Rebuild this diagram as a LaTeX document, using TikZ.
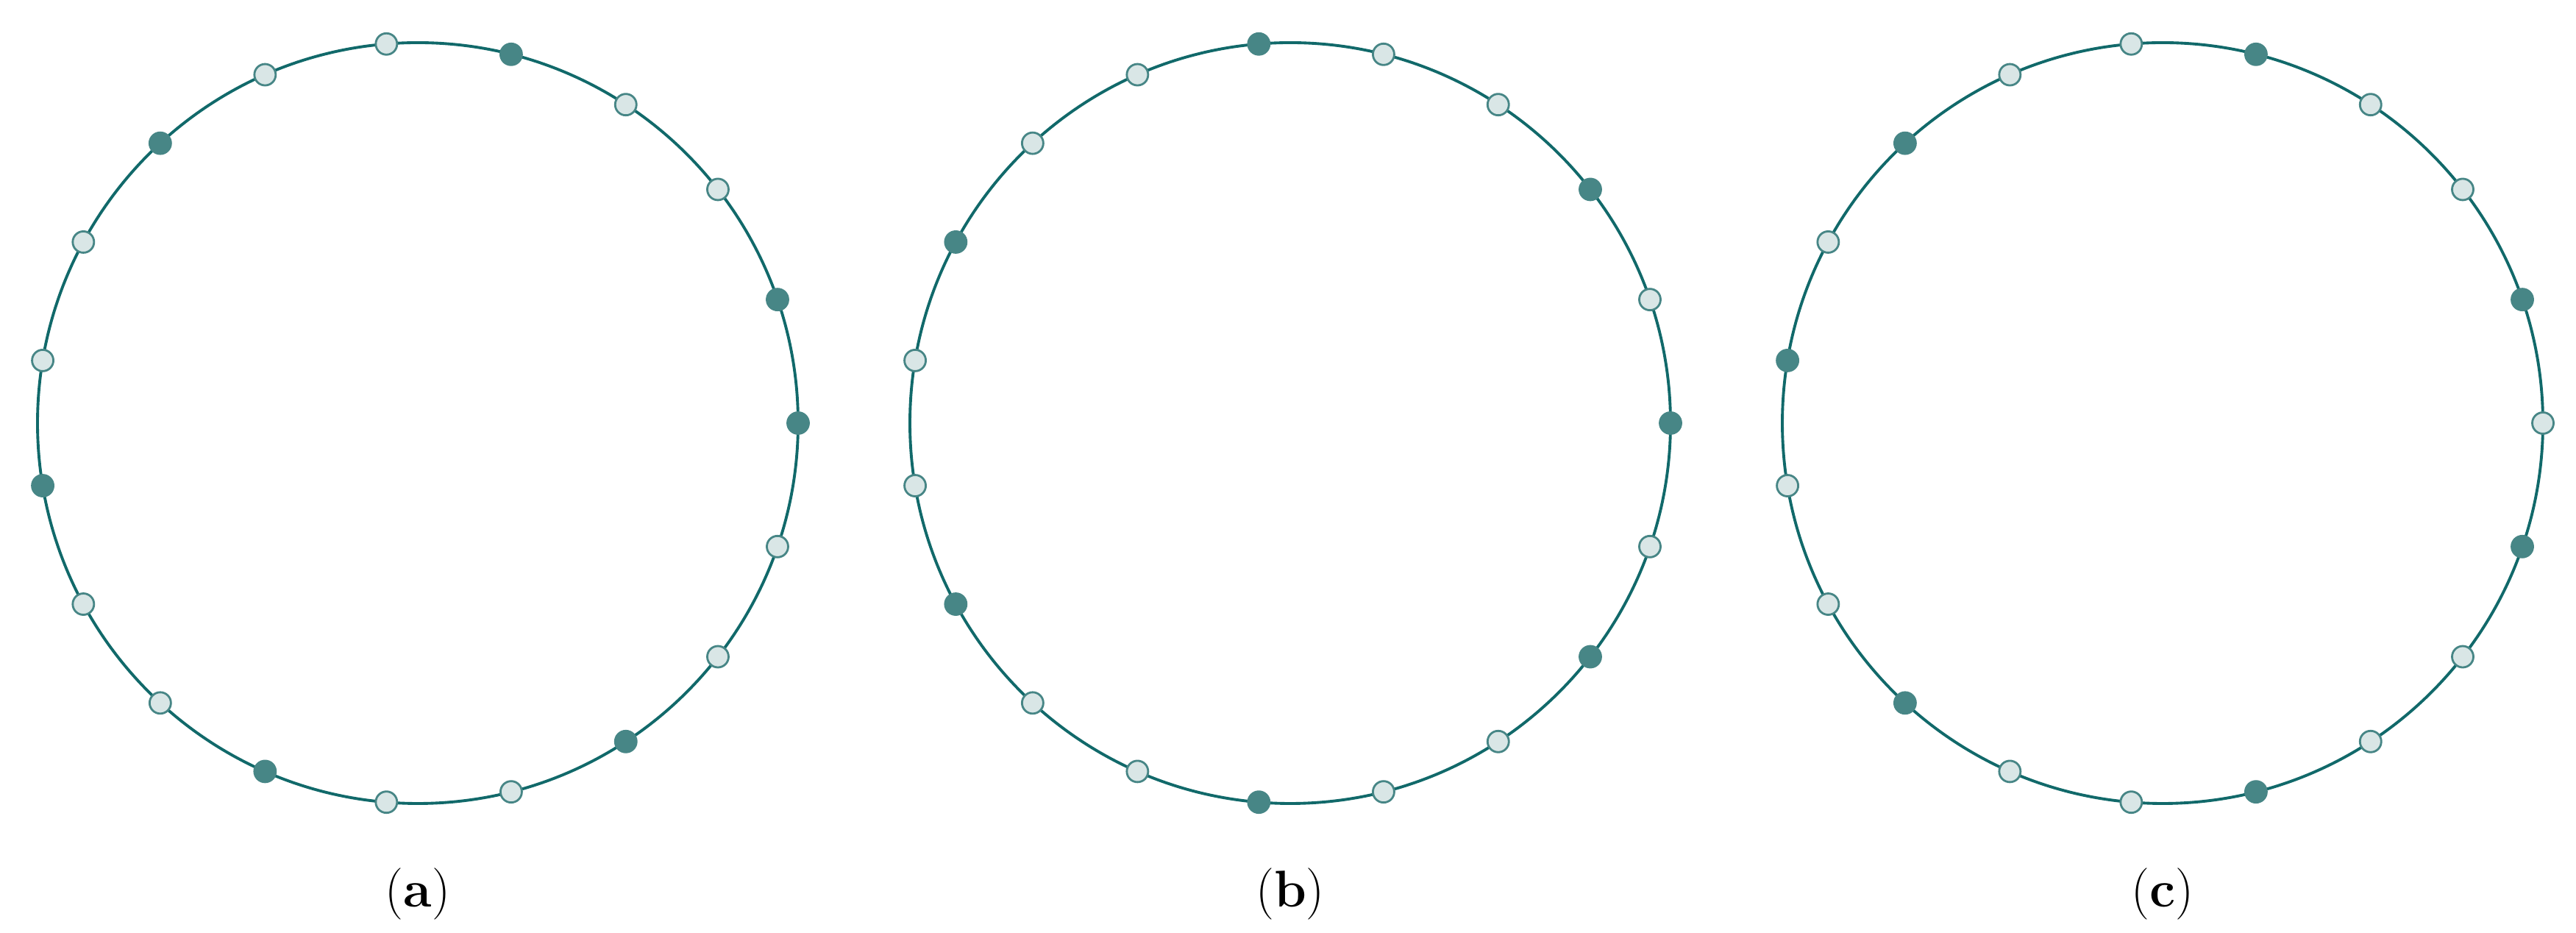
\documentclass[tikz,border=0pt]{standalone}
\usepackage{amsmath}
\usepackage{tikz}

\definecolor{ringcol}{HTML}{11696A}
\definecolor{darkpt}{HTML}{478686}
\definecolor{lightpt}{HTML}{D9E6E6}

\tikzset{
  ring/.style = {draw=ringcol, line width=1.1pt},
  fullpt/.style = {circle, fill=darkpt, draw=darkpt, line width=0.8pt, minimum size=0.29cm, inner sep=0pt},
  emptypt/.style = {circle, fill=lightpt, draw=darkpt, line width=0.8pt, minimum size=0.29cm, inner sep=0pt},
  caption/.style = {font=\fontsize{20}{24}\selectfont}
}

\begin{document}
\begin{tikzpicture}
\useasboundingbox (0,0) rectangle (35.02,12.68);
\foreach \name/\cx/\dark in {a/5.68/{0,1,4,7,10,13,16}, b/17.54/{0,2,5,8,11,14,17}, c/29.40/{1,4,7,9,12,15,18}} {
    \draw[ring] (\cx,6.93) circle (5.17);
    \foreach \k in {0,...,18} {
        \gdef\ptstyle{emptypt}
        \foreach \d in \dark { \ifnum\d=\k \gdef\ptstyle{fullpt}\fi }
        \node[\ptstyle] (\name-\k) at ({\cx+5.17*cos(\k*360/19)}, {6.93+5.17*sin(\k*360/19)}) {};
    }
    \node[caption] (lab-\name) at (\cx,0.53) {(\textbf{\name})};
}
\end{tikzpicture}
\end{document}
